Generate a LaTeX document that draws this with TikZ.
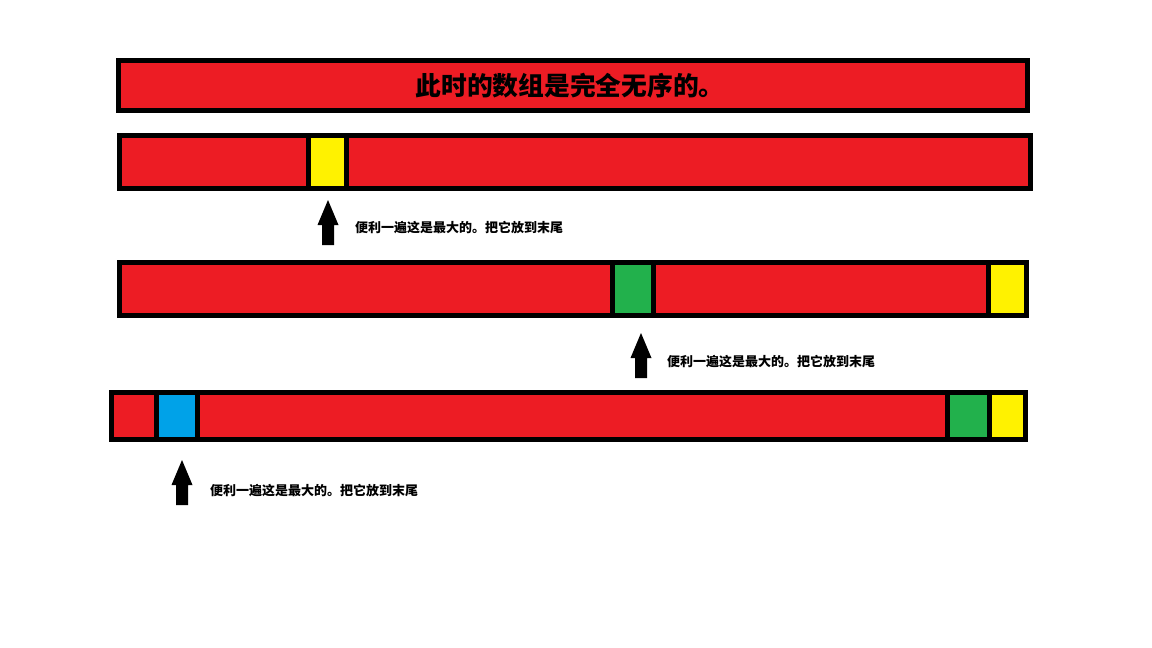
\documentclass[tikz,border=0pt]{standalone}
\usepackage{fontspec}
\setmainfont{Noto Sans CJK SC}
\usetikzlibrary{fit}
\definecolor{barred}{HTML}{ED1C24}
\definecolor{baryellow}{HTML}{FFF200}
\definecolor{bargreen}{HTML}{22B14C}
\definecolor{barblue}{HTML}{00A2E8}
\begin{document}
\begin{tikzpicture}[x=1pt,y=-1pt,
    cell/.style={rectangle,draw=black,line width=5pt,inner sep=0pt},
    note/.style={anchor=west,inner sep=0pt,font=\fontsize{13}{13}\selectfont\bfseries},
    bigarrow/.pic={\fill[black] (0,0) -- (10.5,25) -- (6,25) -- (6,45) -- (-6,45) -- (-6,25) -- (-10.5,25) -- cycle;}]
  \fill[white] (0,0) rectangle (1152,648);
  \useasboundingbox (0,0) rectangle (1152,648);
  % row 0
  \node[cell,fill=barred,fit={(118.5,60.5) (1027.5,110.5)}] (top) {};
  \node[inner sep=0pt,font=\fontsize{25.75}{26}\selectfont\bfseries] (title) at ([xshift=-3pt]top.center) {此时的数组是完全无序的。};
  % row 1
  \node[cell,fill=barred,fit={(119.5,135.5) (308.5,188.5)}] (A1) {};
  \node[cell,fill=baryellow,fit={(308.5,135.5) (346.5,188.5)}] (Y1) {};
  \node[cell,fill=barred,fit={(346.5,135.5) (1030.5,188.5)}] (B1) {};
  \pic at (328,200) {bigarrow};
  \node[note] (note1) at (355,228) {便利一遍这是最大的。把它放到末尾};
  % row 2
  \node[cell,fill=barred,fit={(119.5,262.5) (612.5,315.5)}] (A2) {};
  \node[cell,fill=bargreen,fit={(612.5,262.5) (653.5,315.5)}] (G2) {};
  \node[cell,fill=barred,fit={(653.5,262.5) (988,315.5)}] (B2) {};
  \node[cell,fill=baryellow,fit={(988,262.5) (1026.5,315.5)}] (Y2) {};
  \pic at (641,333) {bigarrow};
  \node[note] (note2) at (667,362) {便利一遍这是最大的。把它放到末尾};
  % row 3
  \node[cell,fill=barred,fit={(111.5,392.5) (156.5,439.5)}] (A3) {};
  \node[cell,fill=barblue,fit={(156.5,392.5) (197.5,439.5)}] (L3) {};
  \node[cell,fill=barred,fit={(197.5,392.5) (947.5,439.5)}] (B3) {};
  \node[cell,fill=bargreen,fit={(947.5,392.5) (989.5,439.5)}] (G3) {};
  \node[cell,fill=baryellow,fit={(989.5,392.5) (1025.5,439.5)}] (Y3) {};
  \pic at (182,460) {bigarrow};
  \node[note] (note3) at (210,491) {便利一遍这是最大的。把它放到末尾};
\end{tikzpicture}
\end{document}
